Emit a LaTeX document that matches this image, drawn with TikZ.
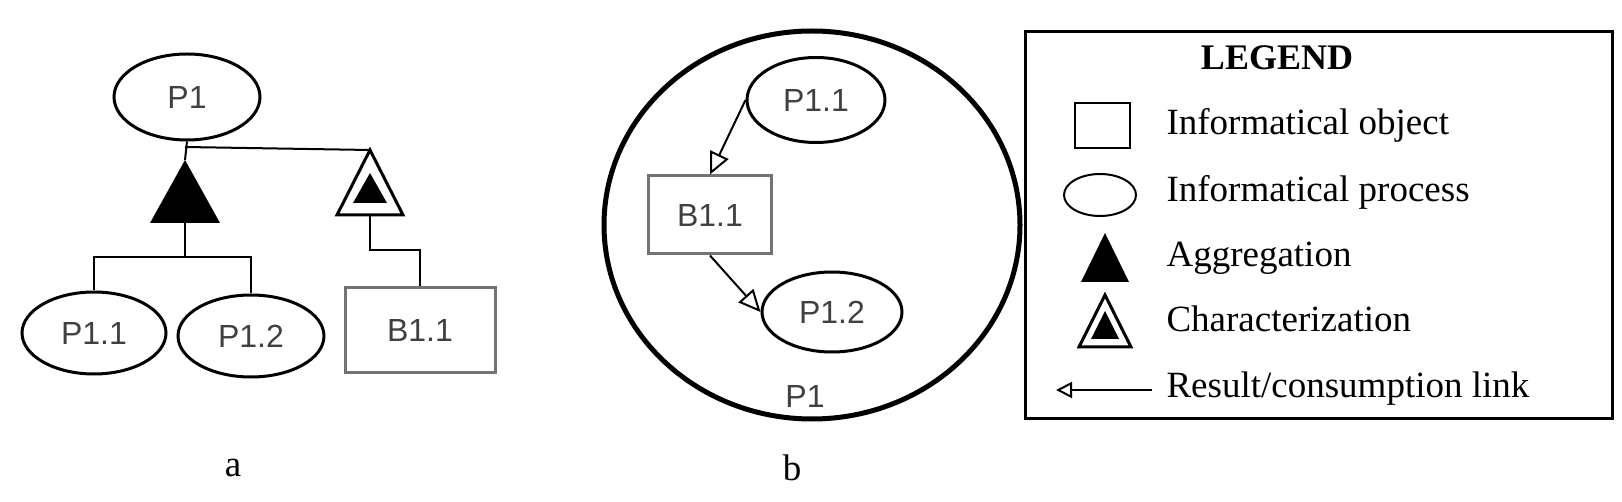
\documentclass[tikz,border=0pt]{standalone}
\usepackage{fontspec}
\setmainfont{Liberation Serif}
\newfontfamily\arialf{Liberation Sans}
\usetikzlibrary{arrows.meta,shapes.geometric}
\begin{document}
\begin{tikzpicture}[x=1pt,y=-1pt,
  proc/.style={draw,line width=3pt,ellipse,inner sep=0pt,font=\arialf\fontsize{32}{36}\selectfont,text=black!75},
  obj/.style={draw=black!55,line width=3pt,rectangle,inner sep=0pt,font=\arialf\fontsize{32}{36}\selectfont,text=black!75},
  conn/.style={line width=2pt},
  res/.style={line width=2pt,-{Triangle[open,length=22pt,width=20pt,line width=2pt]}},
  lgt/.style={anchor=base west,font=\fontsize{37}{40}\selectfont},
  captext/.style={font=\fontsize{37}{40}\selectfont}]
\useasboundingbox (0,0) rectangle (1622,502);
% ---- part a
\node[proc,minimum width=146pt,minimum height=86pt] (P1) at (187,97) {P1};
\node[proc,minimum width=144pt,minimum height=82pt] (P11) at (94,333) {P1.1};
\node[proc,minimum width=146pt,minimum height=82pt] (P12) at (251,336) {P1.2};
\node[obj,minimum width=150pt,minimum height=85pt] (B11) at (420,330) {B1.1};
\fill (185,160) -- (220,223) -- (150,223) -- cycle;
\coordinate (agA) at (185,160);
\coordinate (agB) at (185,223);
\draw[line width=3pt,fill=white] (370,150) -- (403,215) -- (337,215) -- cycle;
\fill (370,173) -- (387,203) -- (353,203) -- cycle;
\coordinate (chA) at (370,150);
\coordinate (chB) at (370,215);
\draw[conn] (P1.south) -- (agA);
\draw[conn] (185,147) -- (chA);
\draw[conn] (agB) -- (185,257) -| (P11.north);
\draw[conn] (185,257) -| (P12.north);
\draw[conn] (chB) -- (370,250) -| (B11.north);
\node[captext] (la) at (233,468) {a};
% ---- part b
\draw[line width=5pt] (812,225) ellipse [x radius=208, y radius=194];
\node[proc,minimum width=138pt,minimum height=85pt] (Q11) at (816,100) {P1.1};
\node[obj,minimum width=123pt,minimum height=78pt] (C11) at (710,215) {B1.1};
\node[proc,minimum width=140pt,minimum height=80pt] (Q12) at (832,312) {P1.2};
\node[font=\arialf\fontsize{32}{36}\selectfont,text=black!75] (PL) at (805,396) {P1};
\draw[res] (Q11.west) -- (C11.north);
\draw[res] (C11.south) -- (Q12.west);
\node[captext] (lb) at (792,468) {b};
% ---- legend
\draw[line width=3pt] (1025,32) rectangle (1612,418);
\node[font=\bfseries\fontsize{36}{40}\selectfont] (LG) at (1277,58) {LEGEND};
\draw[line width=2.5pt] (1075,103) rectangle (1130,148);
\draw[line width=2pt] (1100,195) ellipse [x radius=36, y radius=21];
\fill (1105,233) -- (1129,282) -- (1081,282) -- cycle;
\draw[line width=3pt,fill=white] (1105,295) -- (1131,347) -- (1079,347) -- cycle;
\fill (1105,311) -- (1119,339) -- (1091,339) -- cycle;
\coordinate (ra) at (1152,390);
\coordinate (rb) at (1056,390);
\draw[line width=2pt,-{Triangle[open,length=16pt,width=16pt,line width=2pt]}] (ra) -- (rb);
\node[lgt] (t1) at (1163,135) {Informatical object};
\node[lgt] (t2) at (1163,202) {Informatical process};
\node[lgt] (t3) at (1163,267) {Aggregation};
\node[lgt] (t4) at (1163,332) {Characterization};
\node[lgt] (t5) at (1163,398) {Result/consumption link};
\end{tikzpicture}
\end{document}
